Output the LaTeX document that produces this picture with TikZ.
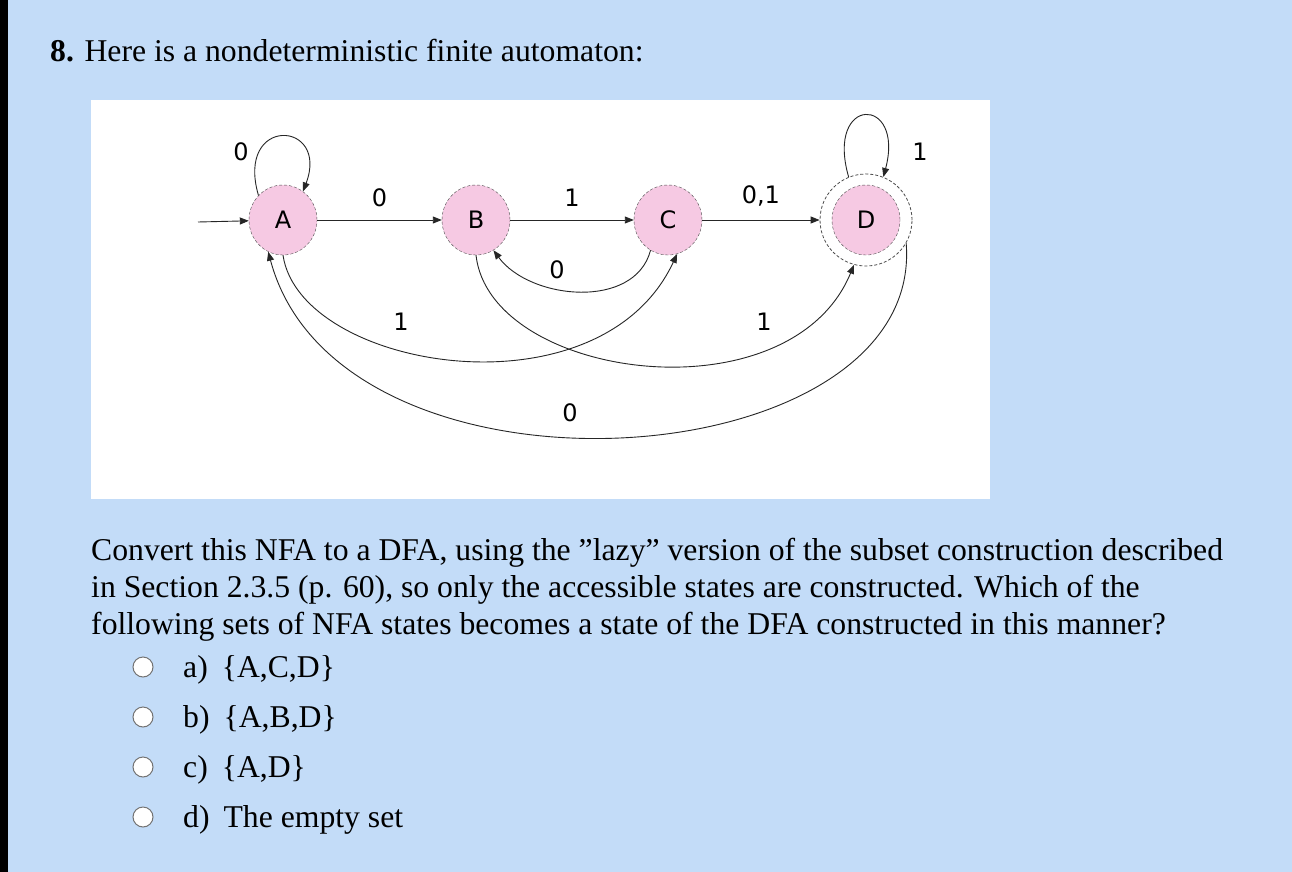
\documentclass[tikz,border=0pt]{standalone}
\usepackage{fontspec}
\setmainfont{Liberation Serif}
\newfontfamily\djsans{DejaVu Sans}
\usetikzlibrary{arrows.meta,shapes.geometric}
\definecolor{bgblue}{HTML}{C3DCF8}
\definecolor{statepink}{HTML}{F6C9E3}
\newcommand{\sq}{{\char34}}
\tikzset{
  x=1pt,y=-1pt,
  st/.style={ellipse,draw=black!70,densely dashed,fill=statepink,minimum width=68pt,minimum height=70pt,inner sep=0pt,font=\djsans\fontsize{24}{24}\selectfont},
  lab/.style={font=\djsans\fontsize{24}{24}\selectfont,inner sep=1pt},
  edge/.style={draw=black!85,line width=0.9pt,-{Triangle[length=9pt,width=7pt]}},
  txt/.style={anchor=base west,inner sep=0pt,font=\fontsize{31.7}{36}\selectfont},
  radio/.style={circle,draw=black!55,fill=white,line width=1pt,minimum size=20pt,inner sep=0pt}
}
\begin{document}
\begin{tikzpicture}
\useasboundingbox (0,0) rectangle (1292,872);
\fill[bgblue] (0,0) rectangle (1292,872);
\fill[black] (0,0) rectangle (8,872);
\fill[white] (91,100) rectangle (990,499);
\node[txt] (title) at (50,62) {\textbf{8.} Here is a nondeterministic finite automaton:};

\node[st] (A) at (283,220) {A};
\node[st] (B) at (476,220) {B};
\node[st] (C) at (668,220) {C};
\node[st] (D) at (866,220) {D};
\node[circle,draw=black!70,densely dashed,line width=0.8pt,minimum size=92pt] (Dout) at (866,220) {};
\coordinate (start) at (198,222);

\draw[edge] (start) -- (A);
\draw[edge] (A) -- node[lab,above=12pt] {0} (B);
\draw[edge] (B) -- node[lab,above=12pt] {1} (C);
\draw[edge] (C) -- node[lab,above=12pt] (l01) {0,1} (Dout);
\draw[edge] (A.135) .. controls (235,115) and (330,120) .. (A.55);
\node[lab] (l0a) at (241,152) {0};
\draw[edge] (Dout.112) .. controls (825,95) and (905,95) .. (Dout.68);
\node[lab] (l1d) at (920,152) {1};
\draw[edge] (C.240) .. controls (635,310) and (530,300) .. (B.300);
\node[lab] (l0cb) at (557,270) {0};
\draw[edge] (A.270) .. controls (300,370) and (600,420) .. (C.285);
\node[lab] (l1ac) at (401,322) {1};
\draw[edge] (B.270) .. controls (490,380) and (790,420) .. (Dout.255);
\node[lab] (l1bd) at (764,322) {1};
\draw[edge] (Dout.330) .. controls (925,480) and (340,520) .. (A.245);
\node[lab] (l0da) at (570,413) {0};

\node[txt] (p1) at (91,560) {Convert this NFA to a DFA, using the \sq lazy\sq{} version of the subset construction described};
\node[txt] (p2) at (91,597) {in Section 2.3.5 (p. 60), so only the accessible states are constructed. Which of the};
\node[txt] (p3) at (91,634) {following sets of NFA states becomes a state of the DFA constructed in this manner?};

\node[radio] (ra) at (143,667) {};
\node[radio] (rb) at (143,717) {};
\node[radio] (rc) at (143,767) {};
\node[radio] (rd) at (143,817) {};
\node[txt] (ta) at (183,677) {a)\hspace{14pt}\{A,C,D\}};
\node[txt] (tb) at (183,727) {b)\hspace{14pt}\{A,B,D\}};
\node[txt] (tc) at (183,777) {c)\hspace{14pt}\{A,D\}};
\node[txt] (td) at (183,827) {d)\hspace{14pt}The empty set};
\end{tikzpicture}
\end{document}
